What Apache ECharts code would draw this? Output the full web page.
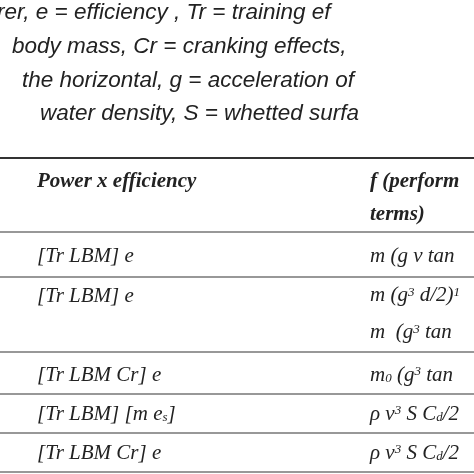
<!DOCTYPE html>
<html><head><meta charset="utf-8">
<script src="https://cdn.jsdelivr.net/npm/echarts@6/dist/echarts.min.js"></script>
<style>html,body{margin:0;background:#fff}#c{width:474px;height:474px}</style>
</head><body><div id="c"></div>
<script>
// caption lines above the table (cropped at the edges, as in the source)
var captionLines = [
  'rer, e = efficiency , Tr = training ef',
  'body mass, Cr = cranking effects,',
  'the horizontal, g = acceleration of',
  'water density, S = whetted surfa'
];
var captionX = [-3, 12, 22, 40];
var captionY = [13, 47, 81, 114];

// table header and rows (rich text markup: {sup|..} {sub|..})
var headers = ['{b|Power x efficiency}', '{b|f (perform}\n{b|terms)}'];
var leftCol = ['[Tr LBM] e', '[Tr LBM] e', '[Tr LBM Cr] e', '[Tr LBM] [m e{sub|s}]', '[Tr LBM Cr] e'];
var rightCol = [
  'm (g v tan',
  'm (g{sup|3} d/2){sup|1}\nm  (g{sup|3} tan',
  'm{sub|0} (g{sup|3} tan',
  'ρ v{sup|3} S C{sub|d}/2',
  'ρ v{sup|3} S C{sub|d}/2'
];
var rowY = [256, 296, 375, 414, 453];
var ruleY = [158, 232, 277, 352, 394, 433, 472];

var chart = echarts.init(document.getElementById('c'));
var rich = {
  b: {fontFamily: 'Liberation Serif', fontStyle: 'italic', fontWeight: 'bold', fontSize: 21, lineHeight: 33},
  sup: {fontFamily: 'Liberation Serif', fontStyle: 'italic', fontSize: 13, lineHeight: 37, padding: [0, 0, 6, 0]},
  sub: {fontFamily: 'Liberation Serif', fontStyle: 'italic', fontSize: 13, lineHeight: 37, padding: [8, 0, 0, 0]}
};
var els = [];
captionLines.forEach(function (t, i) {
  els.push({type: 'text', x: captionX[i], y: captionY[i], style: {
    text: t, fill: '#222', font: 'italic 22.5px "Liberation Sans"', verticalAlign: 'middle'}});
});
ruleY.forEach(function (y, i) {
  els.push({type: 'rect', shape: {x: 0, y: y - (i === 0 ? 1 : 0.5), width: 474, height: i === 0 ? 2 : 1},
    style: {fill: '#333'}});
});
els.push({type: 'text', x: 37, y: 182, style: {text: headers[0], rich: rich, fill: '#222', verticalAlign: 'middle'}});
els.push({type: 'text', x: 370, y: 198, style: {text: headers[1], rich: rich, fill: '#222', verticalAlign: 'middle'}});
var cellFont = {fontFamily: 'Liberation Serif', fontStyle: 'italic', fontSize: 21, lineHeight: 37};
leftCol.forEach(function (t, i) {
  els.push({type: 'text', x: 37, y: rowY[i], style: Object.assign({text: t, rich: rich, fill: '#222', verticalAlign: 'middle'}, cellFont)});
});
rightCol.forEach(function (t, i) {
  var multi = t.indexOf('\n') >= 0;
  els.push({type: 'text', x: 370, y: multi ? rowY[i] + 18 : rowY[i], style: Object.assign({text: t, rich: rich, fill: '#222', verticalAlign: 'middle'}, cellFont)});
});
chart.setOption({backgroundColor: '#fff', graphic: {elements: els}});
</script></body></html>
